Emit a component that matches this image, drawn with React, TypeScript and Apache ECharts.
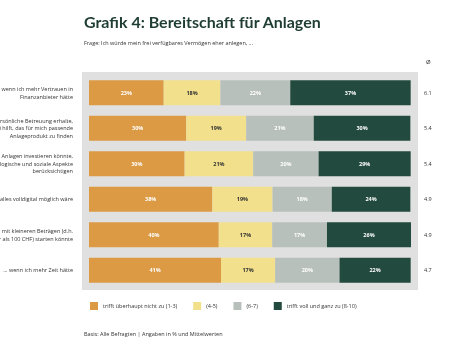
import React, { useEffect, useRef } from "react";
import * as echarts from "echarts";

const categories = [
  ["wenn ich mehr Vertrauen in", "Finanzanbieter hätte"],
  ["rsönliche Betreuung erhalte,", "i hilft, das für mich passende", "Anlageprodukt zu finden"],
  ["Anlagen investieren könnte,", "logische und soziale Aspekte", "berücksichtigen"],
  ["alles volldigital möglich wäre"],
  ["mit kleineren Beträgen (d.h.", "r als 100 CHF) starten könnte"],
  ["... wenn ich mehr Zeit hätte"],
];
const seriesNames = ["trifft überhaupt nicht zu (1-3)", "(4-5)", "(6-7)", "trifft voll und ganz zu (8-10)"];
const s13 = [23.2, 30.2, 29.7, 38.3, 40.3, 41.0];
const s45 = [17.6, 18.6, 21.3, 18.7, 16.6, 16.8];
const s67 = [21.7, 21.0, 20.3, 18.4, 17.0, 20.0];
const s810 = [37.4, 30.0, 28.6, 24.4, 26.1, 22.1];
const means = ["6.1", "5.4", "5.4", "4.9", "4.9", "4.7"];
const colors = ["#dc9a44", "#f2e08c", "#b8c0bb", "#234a3e"];

const FONT = "Open Sans";

export default function App() {
  const ref = useRef<HTMLDivElement>(null);
  useEffect(() => {
    if (!ref.current) return;
    const chart = echarts.init(ref.current, null, { renderer: "svg" });
    const cats = categories.map((c) => c.join("\n"));
    const data = [s13, s45, s67, s810];
    chart.setOption({
      animation: false,
      textStyle: { fontFamily: FONT },
      graphic: [
        {
          type: "rect",
          z: 0,
          shape: { x: 82, y: 72, width: 336, height: 218 },
          style: { fill: "#e0e0e0" },
        },
        {
          type: "text",
          left: 84,
          top: 13,
          style: { text: "Grafik 4: Bereitschaft für Anlagen", fill: "#1f3d33", font: `bold 16px Lato` },
        },
        {
          type: "text",
          left: 84,
          top: 40,
          style: { text: "Frage: Ich würde mein frei verfügbares Vermögen eher anlegen, ...", fill: "#333", font: `5.5px ${FONT}` },
        },
        {
          type: "text",
          left: 426,
          top: 59,
          style: { text: "Ø", fill: "#333", font: `6px ${FONT}` },
        },
        {
          type: "text",
          left: 84,
          top: 331,
          style: { text: "Basis: Alle Befragten | Angaben in % und Mittelwerten", fill: "#333", font: `5.5px ${FONT}` },
        },
      ],
      legend: {
        left: 85,
        top: 297,
        itemWidth: 8,
        itemHeight: 8,
        itemGap: 16,
        icon: "rect",
        textStyle: { fontSize: 5.5, color: "#333", fontFamily: FONT },
        data: seriesNames,
      },
      grid: { left: 89, top: 75, width: 322, height: 213, outerBoundsMode: "none", containLabel: false },
      xAxis: { type: "value", min: 0, max: 100, show: false },
      yAxis: [
        {
          type: "category",
          inverse: true,
          data: cats,
          axisLine: { show: false },
          axisTick: { show: false },
          axisLabel: { margin: 16, fontSize: 5.5, lineHeight: 7.5, color: "#333", align: "right", fontFamily: FONT },
        },
        {
          type: "category",
          inverse: true,
          position: "right",
          data: cats,
          axisLine: { show: false },
          axisTick: { show: false },
          axisLabel: {
            margin: 13,
            fontSize: 5.5,
            color: "#333",
            align: "left",
            fontFamily: FONT,
            formatter: (_v: string, i: number) => means[i],
          },
        },
      ],
      series: data.map((d, k) => ({
        name: seriesNames[k],
        type: "bar",
        stack: "all",
        barWidth: 25,
        yAxisIndex: 0,
        itemStyle: { color: colors[k] },
        label: {
          show: true,
          position: "inside",
          fontSize: 5.5,
          fontWeight: 700,
          fontFamily: FONT,
          color: k === 1 ? "#333" : "#fff",
          formatter: (p: any) => Math.round(p.value) + "%",
        },
        data: d,
      })),
    });
    return () => chart.dispose();
  }, []);
  return <div ref={ref} style={{ position: "fixed", left: 0, top: 0, width: 474, height: 355 }} />;
}
